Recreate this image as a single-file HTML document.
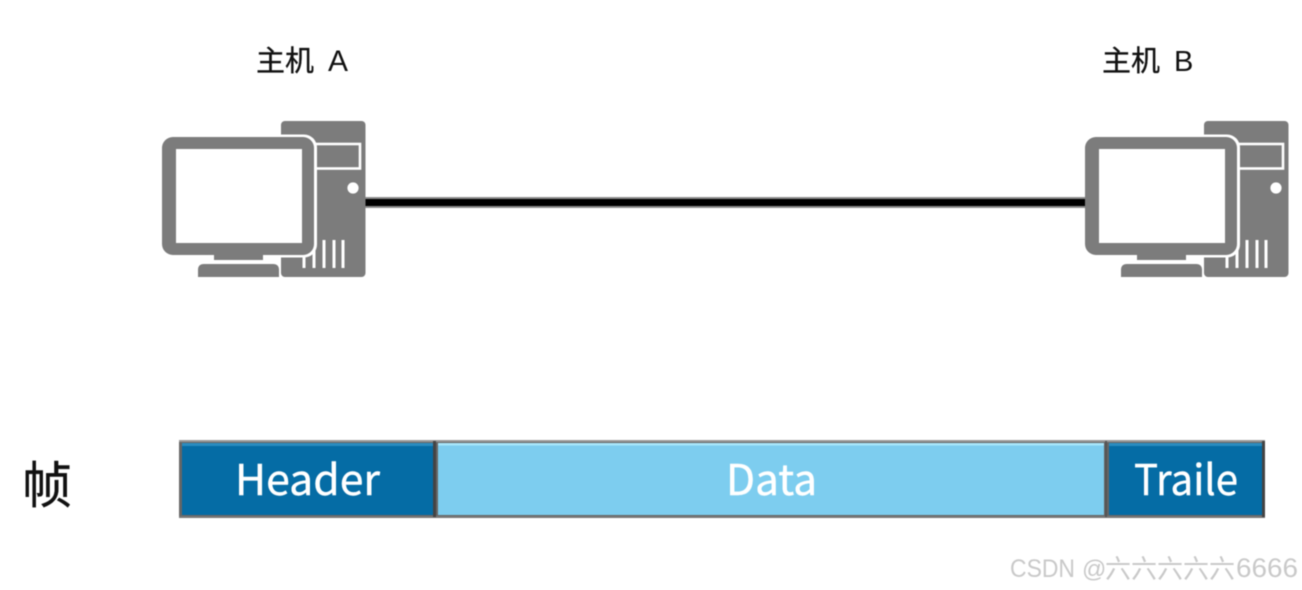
<!DOCTYPE html>
<html>
<head>
<meta charset="utf-8">
<style>
html,body{margin:0;padding:0;background:#fff;width:1302px;height:590px;overflow:hidden}
svg{display:block;filter:blur(0.45px)}
text{font-family:"Noto Sans CJK SC","Liberation Sans",sans-serif}
.lat{font-family:"Liberation Sans","Noto Sans CJK SC",sans-serif}
</style>
</head>
<body>
<svg width="1302" height="590" viewBox="0 0 1302 590" xmlns="http://www.w3.org/2000/svg">
<defs>
<g id="pc">
  <rect x="281" y="121" width="84.500" height="156" rx="4" fill="#7c7c7c"/>
  <rect x="310" y="144" width="50" height="24.500" fill="none" stroke="#fff" stroke-width="2.6"/>
  <circle cx="353" cy="188" r="5.600" fill="#fff"/>
  <g stroke="#fff" stroke-width="3">
    <line x1="304" y1="240" x2="304" y2="268"/>
    <line x1="314" y1="240" x2="314" y2="268"/>
    <line x1="324" y1="240" x2="324" y2="268"/>
    <line x1="334" y1="240" x2="334" y2="268"/>
    <line x1="343" y1="240" x2="343" y2="268"/>
  </g>
  <rect x="200" y="134.500" width="117" height="123" rx="13" fill="#fff"/>
  <rect x="162" y="137" width="152" height="118" rx="11" fill="#7c7c7c"/>
  <rect x="176" y="149" width="126" height="94" fill="#fff"/>
  <rect x="214" y="255" width="49" height="5" fill="#7c7c7c"/>
  <path d="M198 277 V270 Q198 264 204 264 H273 Q279 264 279 270 V277 Z" fill="#7c7c7c"/>
</g>
</defs>

<rect x="365" y="197" width="720" height="11" fill="#8c8c8c"/>
<rect x="365" y="199" width="720" height="7" fill="#000"/>

<use href="#pc"/>
<use href="#pc" x="923"/>

<text x="256" y="71" font-size="29" fill="#111" stroke="#111" stroke-width=".3">主机</text>
<text class="lat" x="328" y="71" font-size="30" fill="#111">A</text>
<text x="1102" y="71" font-size="29" fill="#111" stroke="#111" stroke-width=".3">主机</text>
<text class="lat" x="1174" y="71" font-size="29" fill="#111">B</text>

<text x="22" y="503" font-size="50" fill="#111" stroke="#111" stroke-width=".4">帧</text>

<rect x="179" y="440" width="1086" height="78" fill="#666"/>
<rect x="179" y="440" width="1086" height="2" fill="#999"/>
<rect x="179" y="516" width="1086" height="2" fill="#777"/>

<rect x="182" y="443" width="251" height="72" fill="#056ca5"/>
<rect x="182" y="443" width="251" height="3" fill="#2a8cc0"/>
<rect x="433" y="441" width="3" height="76" fill="#444"/>

<rect x="438" y="443" width="666" height="72" fill="#7dcdef"/>
<rect x="438" y="443" width="666" height="2.500" fill="#a8e6fb"/>
<rect x="1105" y="441" width="2" height="76" fill="#555"/>

<rect x="1109" y="443" width="153" height="72" fill="#056ca5"/>
<rect x="1109" y="443" width="153" height="3" fill="#2a8cc0"/>
<rect x="1262" y="441" width="3" height="76" fill="#444"/>

<g fill="#fff" stroke="#fff" stroke-width=".4" font-size="42">
<text x="235" y="495" textLength="145" lengthAdjust="spacingAndGlyphs">Header</text>
<text x="726" y="495" textLength="91" lengthAdjust="spacingAndGlyphs">Data</text>
<text x="1134" y="495" textLength="104" lengthAdjust="spacingAndGlyphs">Traile</text>
</g>

<g fill="#c9c9c9">
<text class="lat" x="1010" y="577" font-size="25" textLength="65" lengthAdjust="spacingAndGlyphs">CSDN</text>
<text class="lat" x="1082" y="577" font-size="24">@</text>
<text x="1105" y="578" font-size="26">六六六六六</text>
<text class="lat" x="1236" y="577" font-size="27" textLength="62" lengthAdjust="spacingAndGlyphs">6666</text>
</g>
</svg>
</body>
</html>
